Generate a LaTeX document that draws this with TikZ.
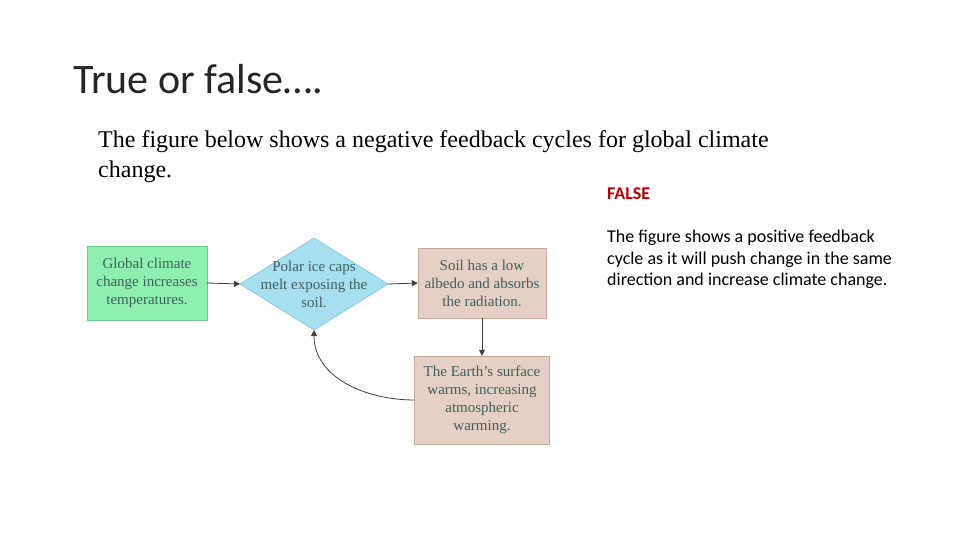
\documentclass[tikz,border=0pt]{standalone}
\usepackage{fontspec}
\setmainfont{Liberation Serif}
\newfontfamily\calfont{Carlito}
\usetikzlibrary{shapes.geometric,arrows.meta}
\definecolor{gbox}{HTML}{8EF0B0}
\definecolor{gline}{HTML}{6CCB8C}
\definecolor{bbox}{HTML}{A6E0EE}
\definecolor{bline}{HTML}{5BB8D6}
\definecolor{tbox}{HTML}{E4D0C6}
\definecolor{tline}{HTML}{C8A898}
\definecolor{dtext}{HTML}{3F5F5F}
\definecolor{fred}{HTML}{C00000}
\tikzset{
 x=1pt,y=-1pt,
 lbl/.style={font=\fontsize{15}{18}\selectfont,text=dtext,align=center},
 arr/.style={draw=black!75,line width=0.8pt,-{Triangle[length=6pt,width=6pt]}}
}
\begin{document}
\begin{tikzpicture}
\useasboundingbox (0,0) rectangle (960,540);
\node[anchor=base west,font=\calfont\fontsize{42}{48}\selectfont,text=black!85,inner sep=0] (title) at (73,94) {True or false….};
\node[anchor=north west,font=\fontsize{24}{30}\selectfont,align=left,inner sep=0] (q) at (98,130) {The figure below shows a negative feedback cycles for global climate\\change.};
\node[anchor=north west,font=\calfont\bfseries\fontsize{18}{21}\selectfont,text=fred,inner sep=0] (f) at (607,187) {FALSE};
\node[anchor=north west,font=\calfont\fontsize{18}{21.5}\selectfont,align=left,inner sep=0] (e) at (607,230) {The figure shows a positive feedback\\cycle as it will push change in the same\\direction and increase climate change.};
\node[lbl,draw=gline,fill=gbox,minimum width=120pt,minimum height=74pt,inner sep=0] (a) at (147,283) {Global climate\\change increases\\temperatures.};
\coordinate (bw) at (240,284);
\coordinate (be) at (388,284);
\coordinate (bn) at (314,238);
\coordinate (bs) at (314,330);
\draw[bline,fill=bbox] (bw) -- (bn) -- (be) -- (bs) -- cycle;
\node[lbl] (b) at (314,284) {Polar ice caps\\melt exposing the\\soil.};
\node[lbl,draw=tline,fill=tbox,minimum width=128pt,minimum height=70pt,inner sep=0] (c) at (482,283) {Soil has a low\\albedo and absorbs\\the radiation.};
\node[lbl,draw=tline,fill=tbox,minimum width=135pt,minimum height=88pt,inner sep=0] (d) at (482,400) {The Earth’s surface\\warms, increasing\\atmospheric\\warming.};
\draw[arr] (a.east) -- (bw);
\draw[arr] (be) -- (c.west);
\draw[arr] (c.south) -- (d.north);
\draw[arr] (d.west) to[out=180,in=-90,looseness=1] (bs);
\end{tikzpicture}
\end{document}
